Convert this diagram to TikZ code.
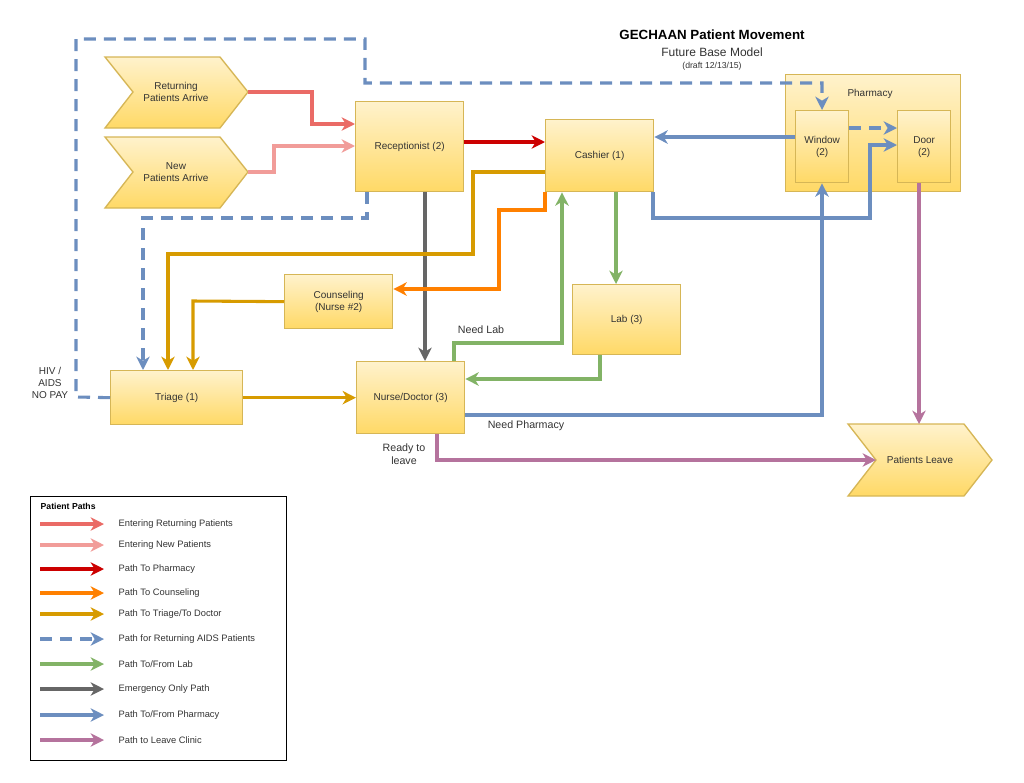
\documentclass[tikz,border=0pt]{standalone}
\usepackage{fontspec}
\setmainfont{Liberation Sans}
\usetikzlibrary{arrows.meta}
\definecolor{cRet}{HTML}{EA6B66}
\definecolor{cNew}{HTML}{F19C99}
\definecolor{cRed}{HTML}{CC0000}
\definecolor{cOrg}{HTML}{FF8000}
\definecolor{cGold}{HTML}{D79B00}
\definecolor{cBlue}{HTML}{6C8EBF}
\definecolor{cGrn}{HTML}{82B366}
\definecolor{cGray}{HTML}{666666}
\definecolor{cPur}{HTML}{B5739D}
\definecolor{fTop}{HTML}{FFF2CC}
\definecolor{fBot}{HTML}{FFD966}
\definecolor{bd}{HTML}{D6B656}
\definecolor{txt}{HTML}{333333}
\tikzset{
  box/.style={draw=bd, line width=1pt, top color=fTop, bottom color=fBot, align=center, font=\fontsize{7.5}{9}\selectfont, text=txt, inner sep=0pt},
  btxt/.style={align=center, font=\fontsize{7.5}{9}\selectfont, text=txt, inner sep=0pt},
  flow/.style={line width=2.3pt, -{Stealth[length=10pt,width=10pt,inset=3pt]}},
  dflow/.style={flow, dash pattern=on 9pt off 6pt},
  lbl/.style={font=\fontsize{8}{9.5}\selectfont, text=txt, align=center},
}
\newcommand{\mybox}[5]{\node[box, minimum width=#3*0.75pt, minimum height=#4*0.75pt, anchor=north west] (#1) at #2 {#5};}
\begin{document}
\begin{tikzpicture}[x=0.75pt,y=-0.75pt]
\useasboundingbox (0,0) rectangle (1024,782);
% chevrons
\path[box] (105,57) -- (220,57) -- (248,92) -- (220,128) -- (105,128) -- (133,92) -- cycle;
\node[btxt] (ret) at (176,92) {Returning\\Patients Arrive};
\path[box] (105,137) -- (220,137) -- (248,172) -- (220,208) -- (105,208) -- (133,172) -- cycle;
\node[btxt] (new) at (176,172) {New\\Patients Arrive};
\path[box] (848,424) -- (964,424) -- (992,460) -- (964,496) -- (848,496) -- (876,460) -- cycle;
\node[btxt] (leave) at (920,460) {Patients Leave};
\coordinate (retT) at (248,92);
\coordinate (newT) at (248,172);
\coordinate (leaveN) at (876,460);
\coordinate (leaveTop) at (919,424);
% boxes
\mybox{rec}{(355,101)}{108}{90}{Receptionist (2)}
\mybox{cash}{(545,119)}{108}{72}{Cashier (1)}
\node[box, minimum width=175*0.75pt, minimum height=117*0.75pt, anchor=north west] (pharm) at (785,74) {};
\node[btxt] at (870,94) {Pharmacy};
\mybox{win}{(795,110)}{53}{72}{Window\\(2)}
\mybox{door}{(897,110)}{53}{72}{Door\\(2)}
\mybox{couns}{(284,274)}{108}{54}{Counseling\\(Nurse \#2)}
\mybox{lab}{(572,284)}{108}{70}{Lab (3)}
\mybox{tri}{(110,370)}{132}{54}{Triage (1)}
\mybox{nd}{(356,361)}{108}{72}{Nurse/Doctor (3)}
% title
\node[font=\bfseries\fontsize{10}{12}\selectfont, text=black] at (712,35) {GECHAAN Patient Movement};
\node[lbl, font=\fontsize{9}{11}\selectfont] at (712,52) {Future Base Model};
\node[lbl, font=\fontsize{6.5}{8}\selectfont] at (712,66) {(draft 12/13/15)};
% connectors
\draw[flow, cRet] (retT) -- (312,92) -- (312,124) -- (rec.north west |- 0,124);
\draw[flow, cNew] (newT) -- (274,172) -- (274,146) -- (rec.north west |- 0,146);
\draw[flow, cRed] (rec.east |- 0,142) -- (cash.west |- 0,142);
\draw[flow, cGray] (rec.south -| 425,0) -- (nd.north -| 425,0);
\draw[dflow, cBlue] (tri.west) -- (76,397) -- (76,39) -- (365,39) -- (365,83) -- (822,83) -- (win.north -| 822,0);
\draw[dflow, cBlue] (rec.south -| 367,0) -- (367,218) -- (143,218) -- (tri.north -| 143,0);
\draw[flow, cGold] (cash.west |- 0,172) -- (473,172) -- (473,254) -- (168,254) -- (tri.north -| 168,0);
\draw[flow, cGold] (couns.west) -- (193,301) -- (tri.north -| 193,0);
\draw[flow, cGold] (tri.east) -- (nd.west |- tri.east);
\draw[flow, cOrg] (cash.south -| 545,0) -- (545,210) -- (499,210) -- (499,289) -- (couns.east |- 0,289);
\draw[flow, cGrn] (cash.south -| 616,0) -- (lab.north -| 616,0);
\draw[flow, cGrn] (nd.north -| 454,0) -- (454,343) -- (562,343) -- (cash.south -| 562,0);
\draw[flow, cGrn] (lab.south -| 600,0) -- (600,379) -- (nd.east |- 0,379);
\draw[flow, cBlue] (win.west |- 0,137) -- (cash.east |- 0,137);
\draw[flow, cBlue] (cash.south -| 653,0) -- (653,218) -- (870,218) -- (870,145) -- (door.west |- 0,145);
\draw[flow, cBlue] (nd.east |- 0,415) -- (822,415) -- (win.south -| 822,0);
\draw[dflow, cBlue] (win.east |- 0,128) -- (door.west |- 0,128);
\draw[flow, cPur] (door.south -| 919,0) -- (leaveTop);
\draw[flow, cPur] (nd.south -| 437,0) -- (437,460) -- (leaveN);
% labels
\node[lbl] at (481,330) {Need Lab};
\node[lbl] at (526,426) {Need Pharmacy};
\node[lbl] at (404,454) {Ready to\\leave};
\node[lbl, font=\fontsize{7.5}{9}\selectfont] at (50,383) {HIV /\\AIDS\\NO PAY};
% legend
\node[draw=black, line width=0.6pt, minimum width=256*0.75pt, minimum height=264*0.75pt, anchor=north west, inner sep=0pt] (leg) at (30,496) {};
\node[font=\bfseries\fontsize{6.5}{8}\selectfont, anchor=west] at (36,506) {Patient Paths};
\foreach \y/\c/\t/\s in {524/cRet/{Entering Returning Patients}/flow, 545/cNew/{Entering New Patients}/flow, 569/cRed/{Path To Pharmacy}/flow, 593/cOrg/{Path To Counseling}/flow, 614/cGold/{Path To Triage/To Doctor}/flow, 639/cBlue/{Path for Returning AIDS Patients}/dflow, 664/cGrn/{Path To/From Lab}/flow, 689/cGray/{Emergency Only Path}/flow, 715/cBlue/{Path To/From Pharmacy}/flow, 740/cPur/{Path to Leave Clinic}/flow}{
  \coordinate (la\y) at (40,\y);
  \coordinate (lb\y) at (104,\y);
  \draw[\s, \c] (la\y) -- (lb\y);
  \node[font=\fontsize{7}{8}\selectfont, text=txt, anchor=west] at (114,\y) {\t};
}
\end{tikzpicture}
\end{document}
